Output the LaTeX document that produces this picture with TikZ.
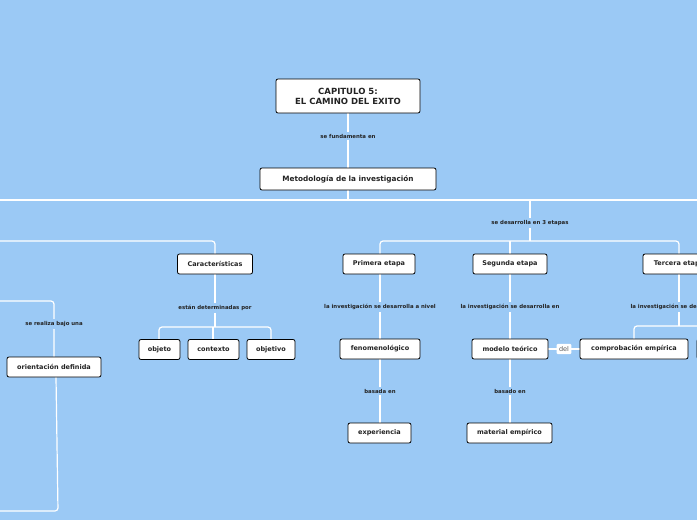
\documentclass[tikz,border=0pt]{standalone}
\usepackage{fontspec}
\setmainfont{DejaVu Sans}
\definecolor{bg}{RGB}{155,201,245}
\definecolor{txt}{RGB}{35,35,35}
\begin{document}
\begin{tikzpicture}[x=1pt,y=-1pt,
  box/.style={draw=black,fill=white,rounded corners=2pt,line width=0.8pt,font=\bfseries\fontsize{6.5}{7.5}\selectfont,text=txt,inner sep=0pt,minimum height=20pt},
  lbl/.style={fill=bg,font=\bfseries\fontsize{5.4}{6}\selectfont,text=txt,inner sep=2pt},
  con/.style={draw=white,line width=1.2pt,rounded corners=3pt}]
\fill[bg] (0,0) rectangle (697,520);
\useasboundingbox (0,0) rectangle (697,520);
\clip (0,0) rectangle (697,520);
\draw[con] (348,113) -- (348,168);
\draw[con] (348,190) -- (348,200);
\draw[con] (0,200) -- (697,200);
\draw[con] (530,200) -- (530,241);
\draw[con] (380,254) -- (380,241) -- (679,241) -- (679,254);
\draw[con] (510,241) -- (510,254);
\draw[con] (0,241) -- (215,241) -- (215,254);
\draw[con] (215,274) -- (215,327);
\draw[con] (159,340) -- (159,327) -- (271,327) -- (271,340);
\draw[con] (213,327) -- (213,340);
\draw[con] (0,301) -- (54,301) -- (54,357);
\draw[con] (56,377) -- (58,511) -- (0,511);
\draw[con] (380,274) -- (380,423);
\draw[con] (510,274) -- (510,423);
\draw[con] (548,349) -- (580,349);
\draw[con] (679,274) -- (679,326);
\draw[con] (634,340) -- (634,326) -- (697,326);
\node[box,minimum width=144pt,minimum height=34pt,align=center,font=\bfseries\fontsize{8.5}{10}\selectfont] (t) at (348,96) {CAPITULO 5:\\EL CAMINO DEL EXITO};
\node[box,minimum width=176pt,minimum height=22pt,font=\bfseries\fontsize{7.3}{9}\selectfont] (m) at (348,179) {Metodología de la investigación};
\node[box,minimum width=75pt] (c) at (215,264) {Características};
\node[box,minimum width=41pt] (o1) at (159.5,349.5) {objeto};
\node[box,minimum width=51pt] (o2) at (213.5,349.5) {contexto};
\node[box,minimum width=48pt] (o3) at (271,349.5) {objetivo};
\node[box,minimum width=94pt] (od) at (54,367) {orientación definida};
\node[box,minimum width=72pt] (p) at (379,264) {Primera etapa};
\node[box,minimum width=80pt] (f) at (380,349) {fenomenológico};
\node[box,minimum width=63pt] (e) at (379.5,433) {experiencia};
\node[box,minimum width=74pt] (s) at (510,264) {Segunda etapa};
\node[box,minimum width=76pt] (mt) at (510,349) {modelo teórico};
\node[box,minimum width=85pt] (me) at (509.5,433) {material empírico};
\node[box,minimum width=108pt] (ce) at (634,349) {comprobación empírica};
\node[box,minimum width=72pt] (te) at (679,264) {Tercera etapa};
\node[box,minimum width=30pt] (x1) at (712,349) {};
\node[draw=black,fill=black,minimum width=30pt,minimum height=16pt] (x2) at (712,432) {};
\node[lbl] at (348,136) {se fundamenta en};
\node[lbl] at (530,223) {se desarrolla en 3 etapas};
\node[lbl] at (215,308) {están determinadas por};
\node[lbl] at (54,324) {se realiza bajo una};
\node[lbl] at (380,307) {la investigación se desarrolla a nivel};
\node[lbl] at (380,391) {basada en};
\node[lbl] at (510,307) {la investigación se desarrolla en};
\node[lbl] at (510,391) {basado en};
\node[lbl] at (680,307) {la investigación se desarrolla en};
\node[fill=white,rounded corners=1pt,font=\fontsize{6.5}{7}\selectfont,text=gray!70!black,inner sep=2.5pt] at (564,349) {del};
\end{tikzpicture}
\end{document}
